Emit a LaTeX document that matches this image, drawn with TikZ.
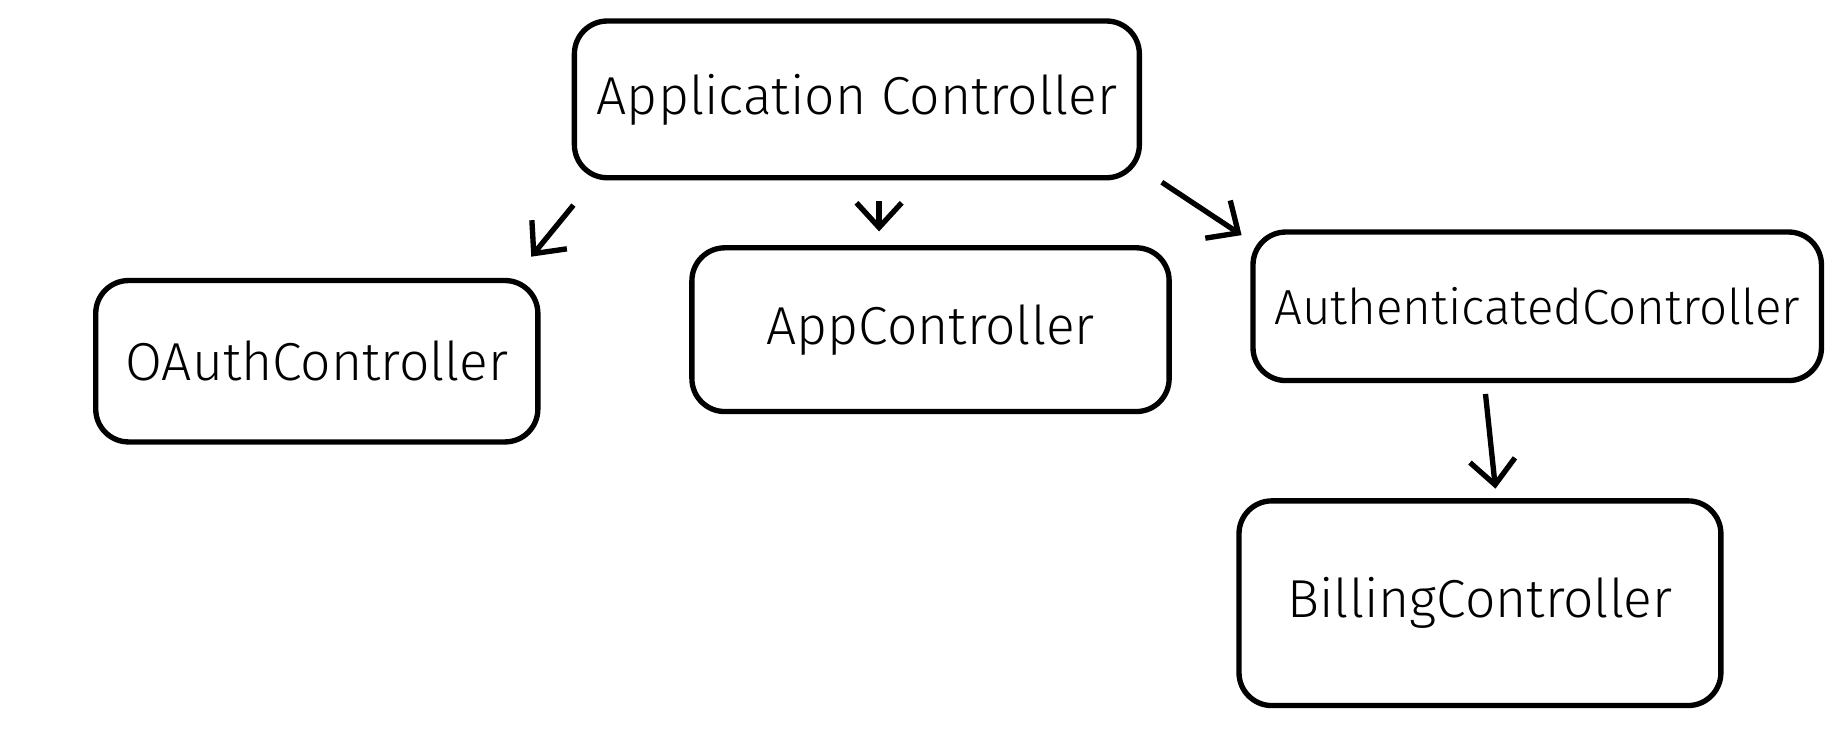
\documentclass[tikz,border=0pt]{standalone}
\usepackage{fontspec}
\setmainfont{Fira Sans Light}
\usetikzlibrary{arrows.meta}
\begin{document}
\begin{tikzpicture}[x=0.01cm,y=-0.01cm,
  box/.style={draw,line width=1.3pt,rounded corners=8pt,inner sep=0pt,font=\fontsize{13}{15}\selectfont},
  arr/.style={-{Straight Barb[length=6pt,width=11pt]},line width=1.3pt,shorten >=2pt,shorten <=2pt}]
\useasboundingbox (0,0) rectangle (1568,626);
\node[box,minimum width=4.83cm,minimum height=1.34cm] (app) at (733,85) {Application Controller};
\node[box,minimum width=3.78cm,minimum height=1.38cm] (oauth) at (271,309) {OAuthController};
\node[box,minimum width=4.08cm,minimum height=1.40cm] (appc) at (796,282) {AppController};
\node[box,minimum width=4.86cm,minimum height=1.27cm,font=\fontsize{12}{14}\selectfont] (auth) at (1315,262) {AuthenticatedController};
\node[box,minimum width=4.12cm,minimum height=1.75cm] (bill) at (1266,516) {BillingController};
\coordinate (a1) at (495,170); \coordinate (a1e) at (450,225);
\coordinate (a2) at (752,165); \coordinate (a2e) at (752,205);
\coordinate (a3) at (988,152); \coordinate (a3e) at (1068,205);
\coordinate (a4) at (1270,330); \coordinate (a4e) at (1280,425);
\draw[arr] (a1) -- (a1e);
\draw[arr] (a2) -- (a2e);
\draw[arr] (a3) -- (a3e);
\draw[arr] (a4) -- (a4e);
\end{tikzpicture}
\end{document}
